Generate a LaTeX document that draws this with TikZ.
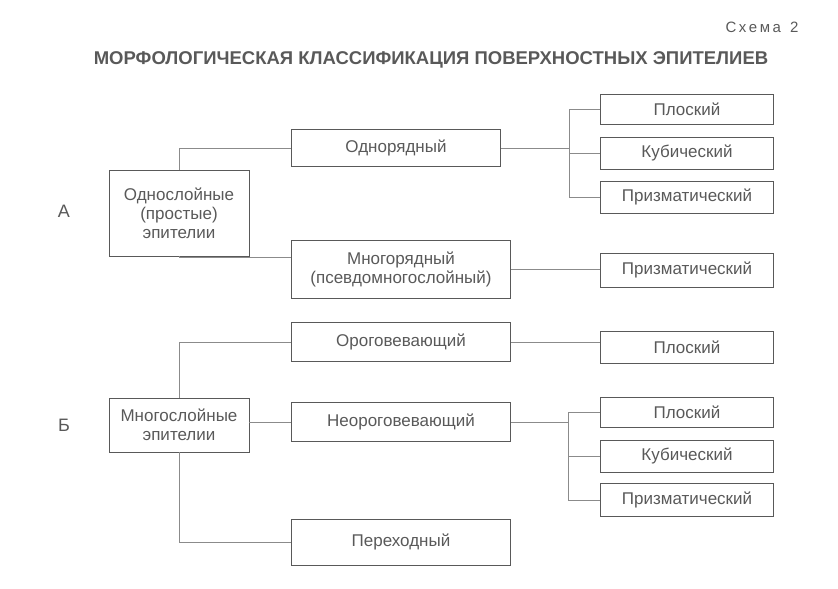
\documentclass[tikz,border=0pt]{standalone}
\usepackage{fontspec}
\setmainfont{Liberation Sans}
\usetikzlibrary{positioning}
\definecolor{ink}{gray}{0.35}
\tikzset{
  box/.style={draw=ink, thick, text=ink, align=center, inner sep=2pt, font=\fontsize{17}{19}\selectfont},
  wire/.style={draw=ink!70, semithick},
}
\begin{document}
\begin{tikzpicture}[x=1pt, y=-1pt]
\useasboundingbox (0,0) rectangle (838,589);
% heading
\node[text=ink, anchor=east, font=\fontsize{15}{17}\selectfont] (scheme) at (802,27) {С\,х\,е\,м\,а\,\ \,2};
\node[text=ink, font=\bfseries\fontsize{18.5}{20}\selectfont] (title) at (431,60) {МОРФОЛОГИЧЕСКАЯ КЛАССИФИКАЦИЯ ПОВЕРХНОСТНЫХ ЭПИТЕЛИЕВ};
% side letters
\node[text=ink, font=\fontsize{18}{20}\selectfont] (lA) at (64,211) {А};
\node[text=ink, font=\fontsize{18}{20}\selectfont] (lB) at (64,425) {Б};
% group A
\node[box, minimum width=140, minimum height=86] (one) at (179,213) {Однослойные\\(простые)\\эпителии};
\node[box, minimum width=209, minimum height=37] (row) at (396,148) {Однорядный};
\node[box, minimum width=219, minimum height=58] (multi) at (401,269) {Многорядный\\(псевдомногослойный)};
\node[box, minimum width=173, minimum height=30] (a1) at (687,109) {Плоский};
\node[box, minimum width=173, minimum height=32] (a2) at (687,153) {Кубический};
\node[box, minimum width=173, minimum height=32] (a3) at (687,197) {Призматический};
\node[box, minimum width=173, minimum height=34] (a4) at (687,270) {Призматический};
% group B
\node[box, minimum width=140, minimum height=54] (many) at (179,425) {Многослойные\\эпителии};
\node[box, minimum width=219, minimum height=39] (kera) at (401,342) {Ороговевающий};
\node[box, minimum width=219, minimum height=39] (nonk) at (401,422) {Неороговевающий};
\node[box, minimum width=219, minimum height=46] (trans) at (401,542) {Переходный};
\node[box, minimum width=173, minimum height=32] (b0) at (687,347) {Плоский};
\node[box, minimum width=173, minimum height=30] (b1) at (687,412) {Плоский};
\node[box, minimum width=173, minimum height=32] (b2) at (687,456) {Кубический};
\node[box, minimum width=173, minimum height=33] (b3) at (687,500) {Призматический};
% connectors
\coordinate (sA) at (569,0);
\coordinate (sB) at (568,0);
\draw[wire] (one.north) |- (row.west);
\draw[wire] (one.south) |- ([yshift=12]multi.west);
\draw[wire] (row.east) -- (sA |- row.east);
\draw[wire] (sA |- a1.west) -- (sA |- a3.west);
\foreach \n in {a1,a2,a3} \draw[wire] (sA |- \n.west) -- (\n.west);
\draw[wire] (multi.east) -- (multi.east -| a4.west);
\draw[wire] (many.north) |- (kera.west);
\draw[wire] (many.south) |- (trans.west);
\draw[wire] (nonk.west -| many.east) -- (nonk.west);
\draw[wire] (kera.east) -- (kera.east -| b0.west);
\draw[wire] (nonk.east) -- (sB |- nonk.east);
\draw[wire] (sB |- b1.west) -- (sB |- b3.west);
\foreach \n in {b1,b2,b3} \draw[wire] (sB |- \n.west) -- (\n.west);
\end{tikzpicture}
\end{document}
